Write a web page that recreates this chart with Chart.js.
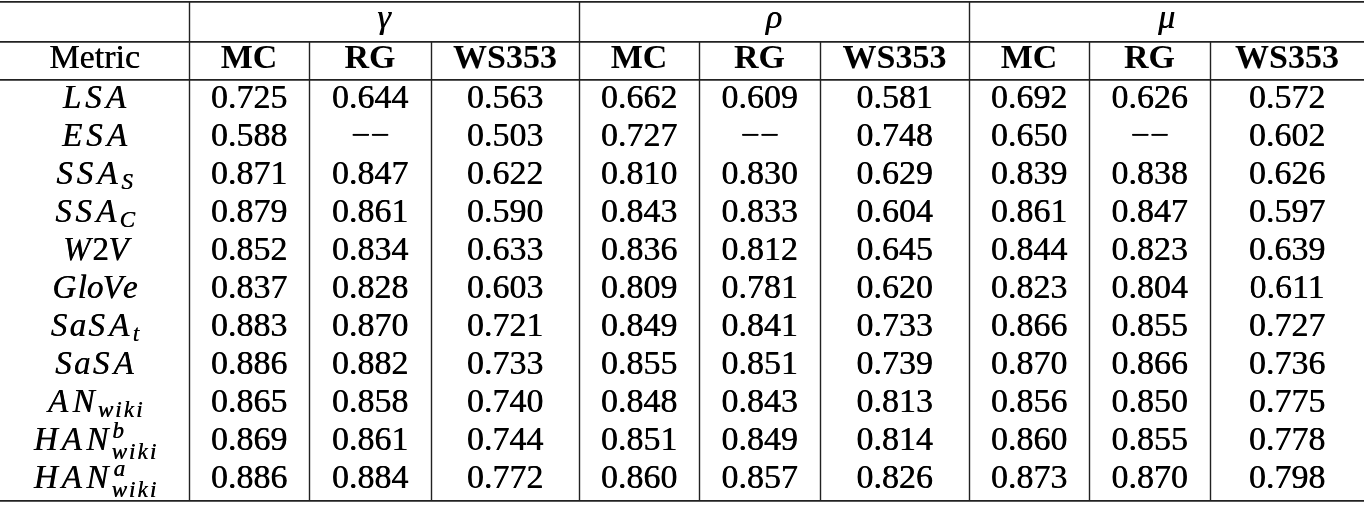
<!DOCTYPE html>
<html>
<head>
<meta charset="utf-8">
<script src="https://cdn.jsdelivr.net/npm/chart.js@4.4.1/dist/chart.umd.min.js"></script>
<style>
  html, body { margin: 0; padding: 0; background: #fff; }
  #wrap { width: 1364px; height: 505px; position: relative; }
</style>
</head>
<body>
<div id="wrap"><canvas id="table-chart"></canvas></div>
<script>
// metric names, latex-ish: ^ superscript, _ subscript
const metrics = ['LSA', 'ESA', 'SSA_S', 'SSA_C', 'W2V', 'GloVe', 'SaSA_t', 'SaSA', 'AN_wiki', 'HAN^b_wiki', 'HAN^a_wiki'];
const measures = ['γ', 'ρ', 'μ'];
const benchmarks = ['MC', 'RG', 'WS353'];

// null = no result, shown as "−−"
const gammaMC = [0.725, 0.588, 0.871, 0.879, 0.852, 0.837, 0.883, 0.886, 0.865, 0.869, 0.886];
const gammaRG = [0.644, null, 0.847, 0.861, 0.834, 0.828, 0.870, 0.882, 0.858, 0.861, 0.884];
const gammaWS = [0.563, 0.503, 0.622, 0.590, 0.633, 0.603, 0.721, 0.733, 0.740, 0.744, 0.772];
const rhoMC = [0.662, 0.727, 0.810, 0.843, 0.836, 0.809, 0.849, 0.855, 0.848, 0.851, 0.860];
const rhoRG = [0.609, null, 0.830, 0.833, 0.812, 0.781, 0.841, 0.851, 0.843, 0.849, 0.857];
const rhoWS = [0.581, 0.748, 0.629, 0.604, 0.645, 0.620, 0.733, 0.739, 0.813, 0.814, 0.826];
const muMC = [0.692, 0.650, 0.839, 0.861, 0.844, 0.823, 0.866, 0.870, 0.856, 0.860, 0.873];
const muRG = [0.626, null, 0.838, 0.847, 0.823, 0.804, 0.855, 0.866, 0.850, 0.855, 0.870];
const muWS = [0.572, 0.602, 0.626, 0.597, 0.639, 0.611, 0.727, 0.736, 0.775, 0.778, 0.798];

const columnSeries = [gammaMC, gammaRG, gammaWS, rhoMC, rhoRG, rhoWS, muMC, muRG, muWS];

// --- layout (x in table units, y in rows; header rows are -2 and -1) ---
const colEdges = [0, 189, 309, 431, 579, 699, 820, 969, 1089, 1210, 1364];
const Y_MIN = -2.05, Y_MAX = 11.08;
const INK = '#000';
const RULE = '#222';
const SERIF = '"Liberation Serif", "Times New Roman", serif';

const colCenter = c => (colEdges[c] + colEdges[c + 1]) / 2;

// computer modern math italic advance widths (em), so labels get the same spread
const cmmi = { L: .681, S: .613, A: .75, E: .738, C: .715, W: .944, V: .583, G: .786, H: .831, N: .803,
  l: .298, o: .485, e: .466, a: .529, t: .361, w: .716, i: .345, k: .521, b: .429, '2': .5 };

function parseLabel(s) {
  const m = s.match(/^([^_^]+)(?:\^([^_]+))?(?:_(.+))?$/);
  return { base: m[1], sup: m[2] || '', sub: m[3] || '' };
}

function runWidth(txt, size, k) {
  let w = 0;
  for (const ch of txt) w += (cmmi[ch] || 0.5) * size * k;
  return w;
}

// second pass a hair to the right: the scanned reference has heavier stems
function ink(ctx, txt, x, y) {
  ctx.fillText(txt, x, y);
  ctx.fillText(txt, x + 0.45, y);
}

function drawRun(ctx, txt, x, baseline, size, k) {
  for (const ch of txt) {
    const adv = (cmmi[ch] || 0.5) * size * k;
    const upright = /[0-9]/.test(ch);
    ctx.font = (upright ? '' : 'italic ') + size + 'px ' + SERIF;
    ink(ctx, ch, x + adv / 2, baseline);
    x += adv;
  }
  return x;
}

function drawMathLabel(ctx, label, cx, baseline) {
  const BASE = 33, SCRIPT = 23;
  const p = parseLabel(label);
  const baseW = runWidth(p.base, BASE, 1);
  const scriptW = Math.max(runWidth(p.sup, SCRIPT, 1.1) + (p.sup ? 2 : 0), runWidth(p.sub, SCRIPT, 1.05));
  let x = cx - (baseW + scriptW) / 2;
  ctx.textAlign = 'center';
  x = drawRun(ctx, p.base, x, baseline, BASE, 1);
  if (p.sup) drawRun(ctx, p.sup, x + 2, baseline - 12, SCRIPT, 1.1);
  if (p.sub) drawRun(ctx, p.sub, x, baseline + (p.sup ? 9 : 5), SCRIPT, 1.05);
}

const tablePlugin = {
  id: 'tableText',
  afterDraw(chart) {
    const { ctx, scales: { x, y } } = chart;
    ctx.save();

    // vertical rules: group separators run full height, the others start under the group row
    ctx.strokeStyle = RULE;
    ctx.lineWidth = 1.4;
    for (let c = 1; c < colEdges.length - 1; c++) {
      const px = Math.round(x.getPixelForValue(colEdges[c])) + 0.5;
      const fromRow = (c - 1) % 3 === 0 ? Y_MIN : -1;
      ctx.beginPath();
      ctx.moveTo(px, y.getPixelForValue(fromRow));
      ctx.lineTo(px, y.getPixelForValue(Y_MAX));
      ctx.stroke();
    }

    ctx.fillStyle = INK;
    ctx.textAlign = 'center';
    ctx.textBaseline = 'alphabetic';

    // group row
    ctx.font = 'italic 34px ' + SERIF;
    measures.forEach((m, g) => {
      const cx = (x.getPixelForValue(colEdges[1 + g * 3]) + x.getPixelForValue(colEdges[4 + g * 3])) / 2;
      ink(ctx, m, cx, y.getPixelForValue(-1.5) + 5);
    });

    // column header row
    const hy = y.getPixelForValue(-0.5) + 7;
    ctx.font = '34px ' + SERIF;
    ink(ctx, 'Metric', x.getPixelForValue(colCenter(0)), hy);
    ctx.font = 'bold 34px ' + SERIF;
    for (let c = 0; c < 9; c++) {
      ctx.fillText(benchmarks[c % 3], x.getPixelForValue(colCenter(c + 1)), hy);
    }

    // cells, placed at the dataset points
    chart.data.datasets.forEach((ds, d) => {
      const meta = chart.getDatasetMeta(d);
      meta.data.forEach((pt, i) => {
        const raw = ds.data[i];
        if (ds.isLabel) {
          drawMathLabel(ctx, raw.label, pt.x, pt.y + 9);
        } else {
          ctx.font = '34px ' + SERIF;
          ctx.textAlign = 'center';
          ink(ctx, raw.v === null ? '−−' : raw.v.toFixed(3), pt.x, pt.y + 9);
        }
      });
    });

    ctx.restore();
  }
};

const datasets = [{
  label: 'Metric',
  isLabel: true,
  data: metrics.map((m, i) => ({ x: colCenter(0), y: i + 0.5, label: m })),
  pointRadius: 0
}].concat(columnSeries.map((vals, c) => ({
  label: measures[Math.floor(c / 3)] + ' ' + benchmarks[c % 3],
  data: vals.map((v, i) => ({ x: colCenter(c + 1), y: i + 0.5, v })),
  pointRadius: 0
})));

new Chart(document.getElementById('table-chart'), {
  type: 'scatter',
  data: { datasets },
  options: {
    responsive: true,
    maintainAspectRatio: false,
    animation: false,
    events: [],
    layout: { padding: { top: 2, bottom: 4, left: 0, right: 0 } },
    plugins: { legend: { display: false }, tooltip: { enabled: false } },
    scales: {
      x: { type: 'linear', min: 0, max: colEdges[colEdges.length - 1], display: false },
      y: {
        type: 'linear',
        reverse: true,
        min: Y_MIN,
        max: Y_MAX,
        afterBuildTicks: scale => { scale.ticks = [Y_MIN, -1, 0, Y_MAX].map(v => ({ value: v })); },
        ticks: { display: false },
        border: { display: false },
        grid: { color: RULE, lineWidth: 1.8, drawTicks: false }
      }
    }
  },
  plugins: [tablePlugin]
});
</script>
</body>
</html>
